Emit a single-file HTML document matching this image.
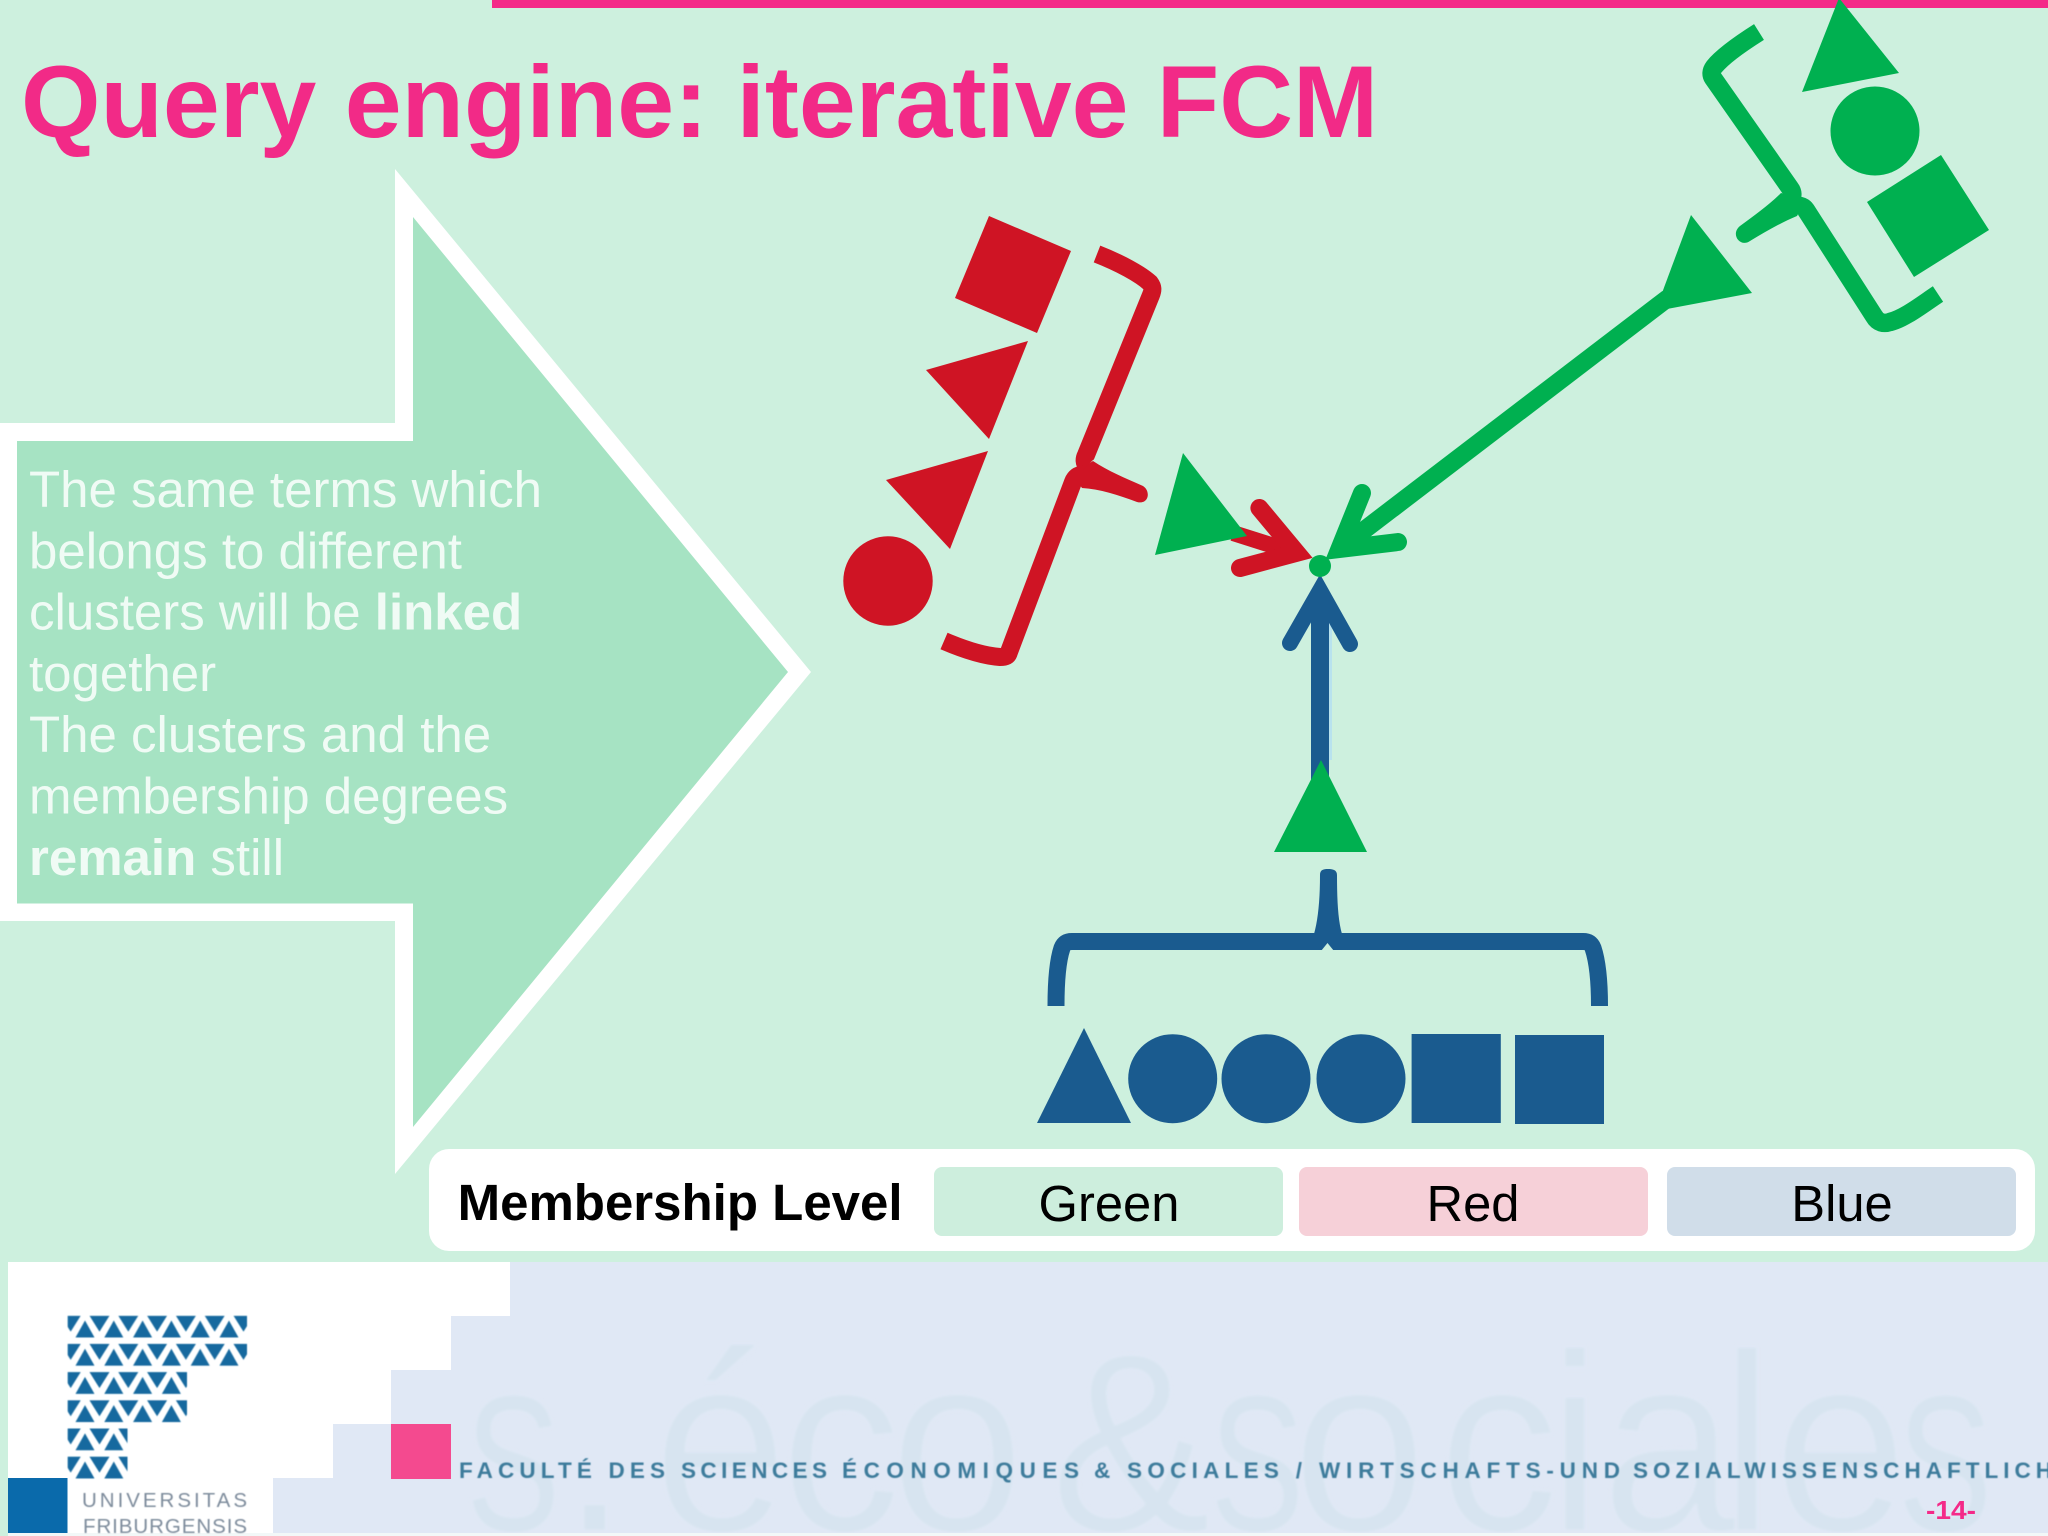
<!DOCTYPE html>
<html><head><meta charset="utf-8"><title>Query engine: iterative FCM</title>
<style>html,body{margin:0;padding:0;background:#CDF0DE}svg{display:block}text{font-family:"Liberation Sans",sans-serif}</style></head>
<body>
<svg xmlns="http://www.w3.org/2000/svg" width="2048" height="1536" viewBox="0 0 2048 1536">
<defs>
<pattern id="lg" patternUnits="userSpaceOnUse" x="67.7" y="1315.7" width="28.8" height="28.2">
<polygon points="-7,0 13,0 3,16" fill="#14699F"/><polygon points="21.8,0 41.8,0 31.8,16" fill="#14699F"/><polygon points="7.8,21.8 26.8,21.8 17.3,4.8" fill="#14699F"/>
</pattern>
<clipPath id="fc"><rect x="8" y="1262" width="2040" height="271"/></clipPath>
<filter id="b" filterUnits="userSpaceOnUse" x="0" y="1250" width="2048" height="286"><feGaussianBlur stdDeviation="0.6"/></filter>
<filter id="b2" filterUnits="userSpaceOnUse" x="0" y="1250" width="2048" height="300"><feGaussianBlur stdDeviation="1.4"/></filter>
</defs>
<rect width="2048" height="1536" fill="#CDF0DE"/>
<rect x="492" y="0" width="1556" height="8" fill="#F42A88"/>
<text x="21" y="137" font-size="102.2" font-weight="700" fill="#F22A87">Query engine: iterative FCM</text>

<polygon points="0,423 395,423 395,169 811,672 395,1174 395,921 0,921" fill="#fff"/>
<polygon points="17,441 413,441 413,217 788,672 413,1127 413,903.5 17,903.5" fill="#A6E3C3"/>
<g font-size="51" fill="#F0FBF5">
<text x="29" y="507">The same terms which</text>
<text x="29" y="568.3">belongs to different</text>
<text x="29" y="629.6">clusters will be <tspan font-weight="700">linked</tspan></text>
<text x="29" y="690.9">together</text>
<text x="29" y="752.2">The clusters and the</text>
<text x="29" y="813.5">membership degrees</text>
<text x="29" y="874.8"><tspan font-weight="700">remain</tspan> still</text>
</g>

<!-- red group -->
<g fill="#CF1424">
<polygon points="989,216 1071,251 1037,333 955,298"/>
<polygon points="1028,341 926,370 989,439"/>
<polygon points="988,451 886,480 950,549"/>
<circle cx="888" cy="581" r="44.7"/>
<path d="M1093,461 C1108,471 1125,478 1143,486 C1151,491 1149,505 1137,502 C1118,495 1100,489 1082,488 L1072,474 Z"/>
</g>
<g fill="none" stroke="#CF1424" stroke-width="18">
<path d="M1097,254 C1120,263 1140,274 1150,283 C1153,287 1153,290 1151,295 L1086,455 C1084,459 1084,463 1087,466"/>
<path d="M944,641 C965,650 985,656 1000,657 C1006,657 1008,656 1009,652 L1073,482 C1075,477 1078,475 1084,474"/>
</g>
<line x1="1233" y1="533" x2="1296" y2="553" stroke="#CF1424" stroke-width="16"/>
<polyline points="1259.4,508 1296.7,552.8 1240,568" fill="none" stroke="#CF1424" stroke-width="18" stroke-linecap="round" stroke-linejoin="miter" stroke-miterlimit="6"/>
<polygon points="1183,453 1247,536 1155,555" fill="#00B050"/>

<!-- green top-right group -->
<g fill="#00B050">
<polygon points="1839,-2 1899,73 1802,92"/>
<circle cx="1875" cy="131" r="44.5"/>
<polygon points="1941,155 1989,230 1914,277 1867,202"/>
<polygon points="1691,215 1752,293 1667,309 1662,293"/>
<path d="M1781,193 C1770,204 1755,215 1740,226 C1730,234 1740,248 1750,241 C1765,232 1782,222 1797,216 L1806,200 Z"/>
</g>
<g fill="none" stroke="#00B050" stroke-width="18.5">
<path d="M1759,32 C1740,44 1722,57 1714,67 C1711,71 1711,75 1713,78 L1790,188 C1793,192 1793,195 1791,199"/>
<path d="M1796,206 C1800,205 1804,207 1806,210 L1874,316 C1878,323 1884,324 1890,322 C1905,318 1920,306 1938,294"/>
</g>
<line x1="1668" y1="298" x2="1342" y2="547" stroke="#00B050" stroke-width="18"/>
<polyline points="1362,493 1339.4,549 1398,542" fill="none" stroke="#00B050" stroke-width="18" stroke-linecap="round" stroke-linejoin="miter" stroke-miterlimit="6"/>

<!-- blue arrow -->
<rect x="1329" y="615" width="3" height="145" fill="#B8E2EE"/>
<rect x="1311" y="600" width="18" height="180" fill="#1A5B8F"/>
<polyline points="1290,643 1320,590.5 1350,644" fill="none" stroke="#1A5B8F" stroke-width="16" stroke-linecap="round" stroke-linejoin="miter" stroke-miterlimit="6"/>
<circle cx="1320" cy="566" r="11" fill="#00B050"/>
<polygon points="1321,760 1367,852 1274,852" fill="#00B050"/>

<!-- blue bracket and shapes -->
<path d="M1056,1006 C1056,980 1058,960 1062,948 C1064,943 1067,941.5 1072,941.5 L1583,941.5 C1588,941.5 1591,943 1593,948 C1597,960 1599.5,980 1599.5,1006" fill="none" stroke="#1A5B8F" stroke-width="17"/>
<g fill="#1A5B8F">
<path d="M1320,875 C1320,870 1323,869 1328,869 C1333,869 1337,870 1337,875 C1337,900 1338,920 1342,934 L1314,934 C1318,920 1320,900 1320,875 Z"/>
<polygon points="1084,1028 1131,1123 1037,1123"/>
<circle cx="1172.7" cy="1078.7" r="44.5"/>
<circle cx="1266" cy="1078.7" r="44.5"/>
<circle cx="1361" cy="1078.7" r="44.5"/>
<rect x="1411.6" y="1034" width="89.2" height="89"/>
<rect x="1515" y="1035" width="89" height="89"/>
</g>
<polygon points="1321,951 1327.5,943 1334,951" fill="#CDF0DE"/>

<!-- legend -->
<rect x="429" y="1149" width="1606" height="102" rx="20" fill="#fff"/>
<rect x="934" y="1167" width="349" height="69" rx="8" fill="#CDEEDD"/>
<rect x="1299" y="1167" width="349" height="69" rx="8" fill="#F6D0D8"/>
<rect x="1667" y="1167" width="349" height="69" rx="8" fill="#D0DDE9"/>
<text x="457.6" y="1220" font-size="51" font-weight="700" fill="#000">Membership Level</text>
<g font-size="50.7" fill="#000" text-anchor="middle">
<text x="1109" y="1221">Green</text>
<text x="1473" y="1221">Red</text>
<text x="1842" y="1221">Blue</text>
</g>

<!-- footer -->
<rect x="8" y="1533" width="2040" height="3" fill="#F2F8F8"/>
<rect x="8" y="1262" width="2040" height="271" fill="#E0E8F5"/>
<g clip-path="url(#fc)"><g filter="url(#b2)" font-size="255" fill="#D7E4F0" stroke="#E0E8F5" stroke-width="3">
<text transform="scale(.75,1)" y="1531" x="621.3">s</text>
<text transform="scale(.95,1)" y="1531" x="590.5 687.4 821.1 936.8 1105.3">.éco&amp;</text>
<text transform="scale(.75,1)" y="1531" x="1613.3">s</text>
<text transform="scale(.95,1)" y="1531" x="1360 1513.7 1629.5 1685.3 1810.5 1866.3">ociale</text>
<text transform="scale(.75,1)" y="1531" x="2530.7">s</text>
</g></g>
<path d="M8,1262 H510 V1316 H451 V1370 H391 V1424 H333 V1478 H273 V1533 H8 Z" fill="#fff"/>
<rect x="8" y="1478" width="59.5" height="55" fill="#0A6AAB"/>
<rect x="391" y="1424" width="60" height="55" fill="#F44A8F"/>
<g filter="url(#b)">
<path d="M67.7,1315.7 H247 V1372 H187 V1428 H127.5 V1480 H67.7 Z" fill="url(#lg)"/>
<text x="82" y="1507" font-size="20.5" fill="#7E8C9C" textLength="165">UNIVERSITAS</text>
<text x="83" y="1533" font-size="20.5" fill="#7E8C9C" textLength="164">FRIBURGENSIS</text>
<g font-size="22.5" font-weight="700" fill="#3C7C9B">
<text x="459" y="1478" textLength="206">FACULTÉ DES</text>
<text x="681" y="1478" textLength="146">SCIENCES</text>
<text x="842" y="1478" textLength="237">ÉCONOMIQUES</text>
<text x="1094" y="1478" textLength="208">&amp; SOCIALES /</text>
<text x="1319" y="1478" textLength="301">WIRTSCHAFTS-UND</text>
<text x="1633" y="1478" textLength="439">SOZIALWISSENSCHAFTLICHE</text>
</g>
</g>
<text x="1926" y="1519" font-size="26" font-weight="700" fill="#F42A88" textLength="50" lengthAdjust="spacingAndGlyphs">-14-</text>
</svg>
</body></html>
